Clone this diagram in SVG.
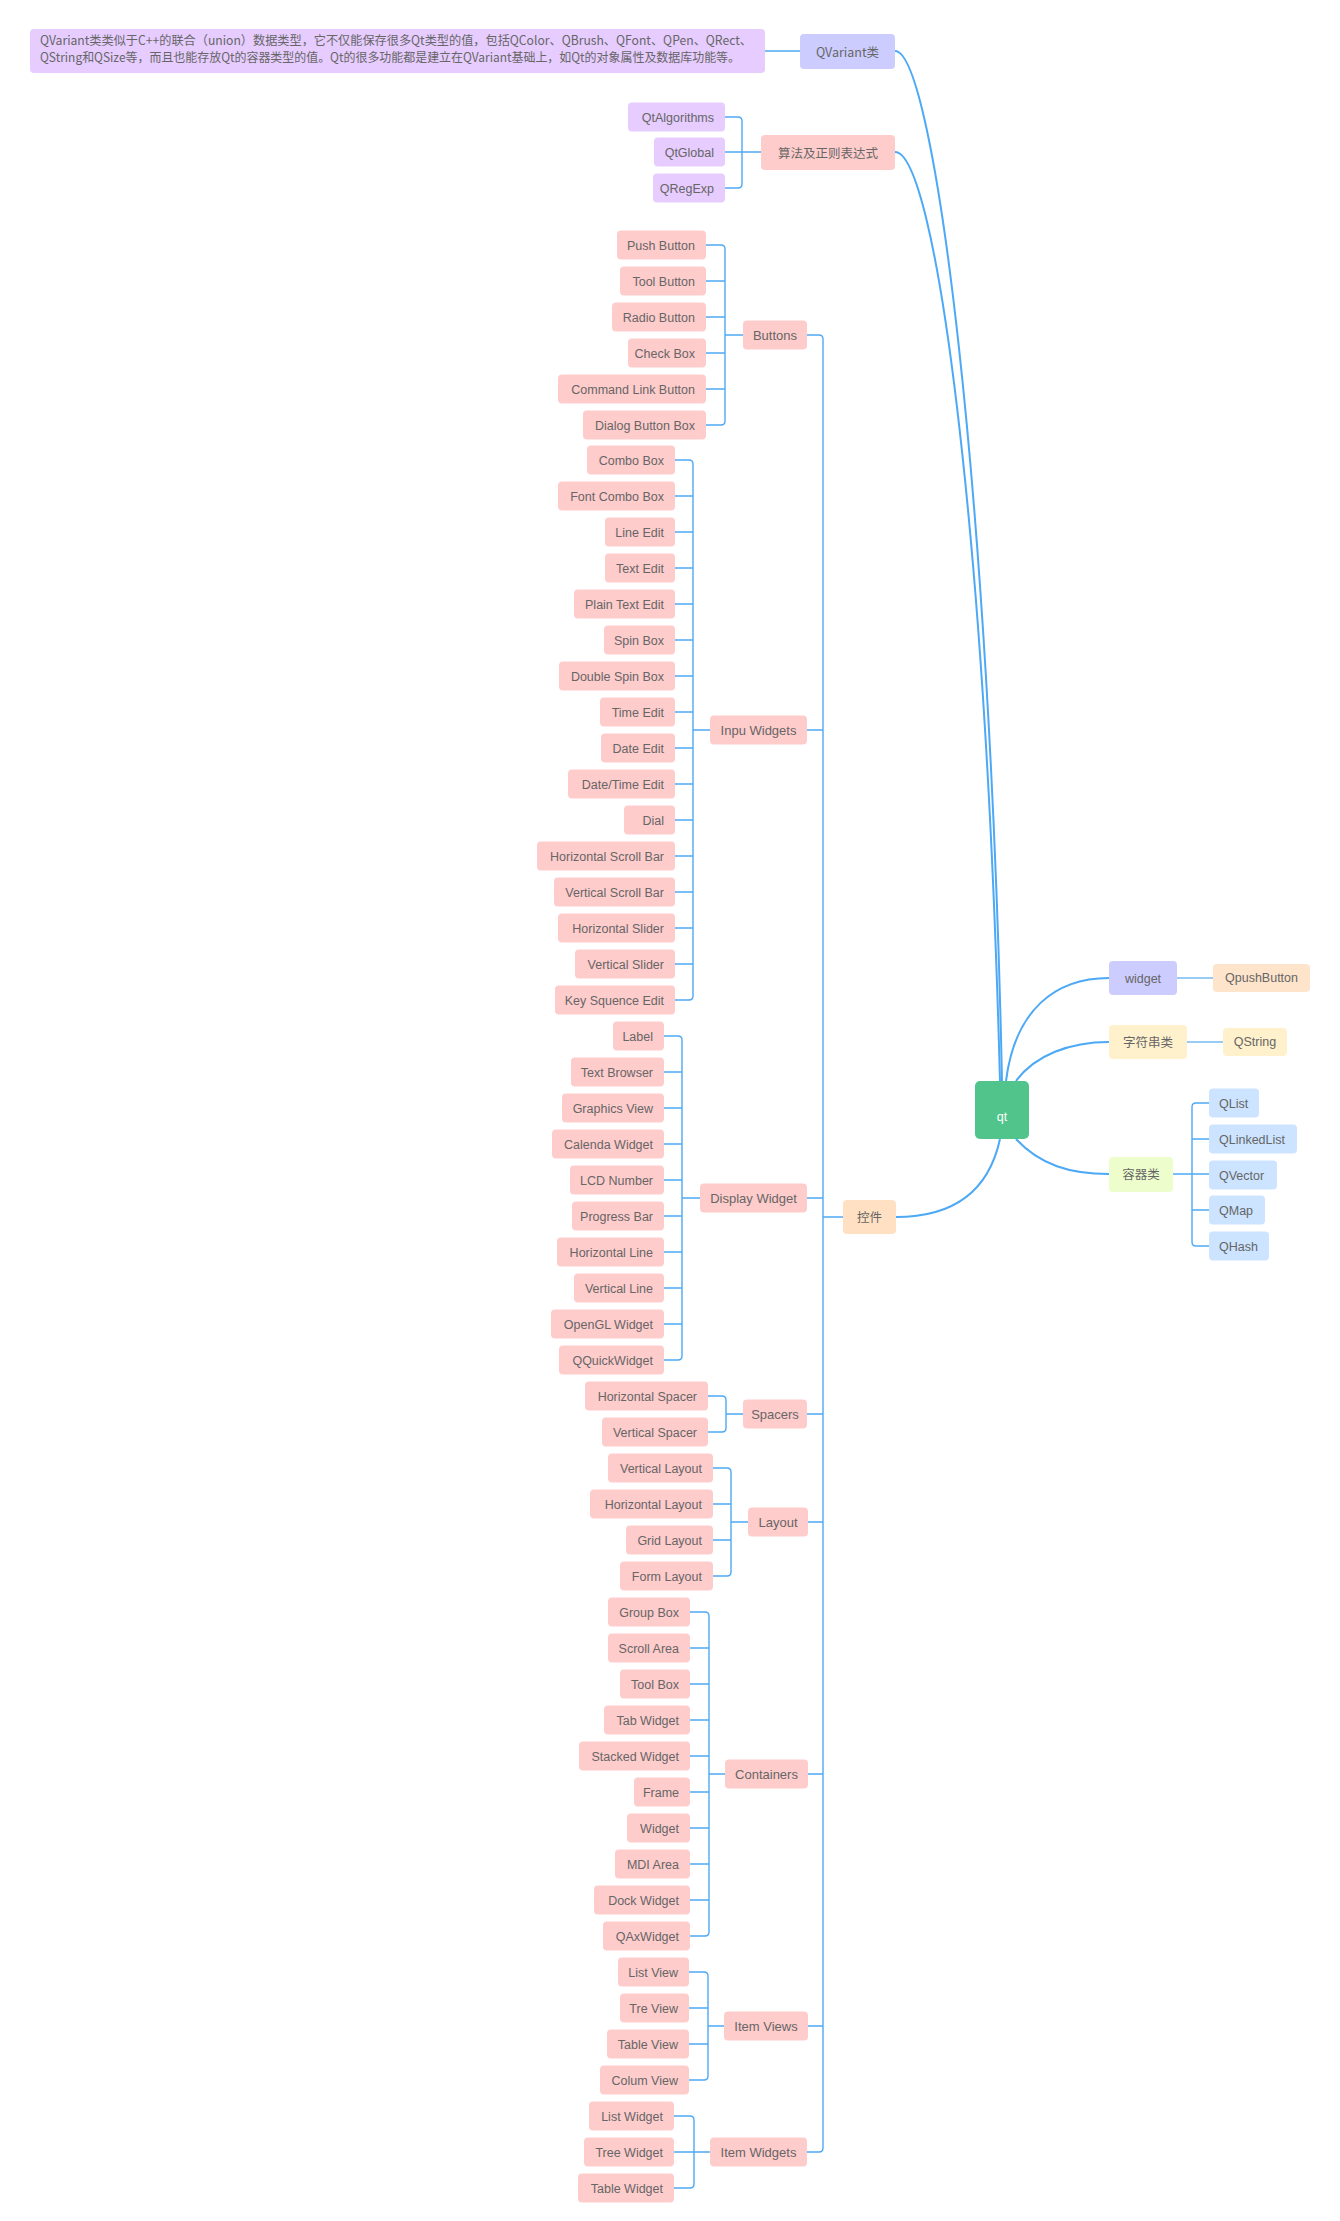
<svg xmlns="http://www.w3.org/2000/svg" width="1340" height="2221" viewBox="0 0 1340 2221">
<style>
text{font-family:"Liberation Sans","Noto Sans CJK SC",sans-serif;fill:#666;font-size:12.5px}
.lf rect{fill:#FFCCCC}
.lf text{text-anchor:end}
.g rect{fill:#FFCCCC}
.g text{text-anchor:middle;font-size:13px}
.c path{fill:none;stroke:#4DA9F5;stroke-width:1.4}
.c .m{stroke-width:2}
.c .l{stroke:#99CCF5;stroke-width:2}
.pu rect{fill:#E6CCFF}
.bl rect{fill:#CCE4FF}
.cn{font-family:"Noto Sans CJK SC",sans-serif}
</style>
<rect width="1340" height="2221" fill="#fff"/>
<g class="c" id="connectors">
<path d="M765,51 H800"/>
<path class="m" d="M895,51 C935,51 990,500 1002,1081"/>
<path class="m" d="M895,152 C935,152 985,520 1000,1081"/>
<path d="M725,117 H738 Q742,117 742,121 V184 Q742,188 738,188 H725 M725,152 H761"/>
<path d="M706,245 H721 Q725,245 725,249 V421 Q725,425 721,425 H706 M706,281 H725 M706,317 H725 M706,353 H725 M706,389 H725 M725,335 H743"/>
<path d="M675,460 H689 Q693,460 693,464 V996 Q693,1000 689,1000 H675 M675,496 H693 M675,532 H693 M675,568 H693 M675,604 H693 M675,640 H693 M675,676 H693 M675,712 H693 M675,748 H693 M675,784 H693 M675,820 H693 M675,856 H693 M675,892 H693 M675,928 H693 M675,964 H693 M693,730 H710"/>
<path d="M664,1036 H678 Q682,1036 682,1040 V1356 Q682,1360 678,1360 H664 M664,1072 H682 M664,1108 H682 M664,1144 H682 M664,1180 H682 M664,1216 H682 M664,1252 H682 M664,1288 H682 M664,1324 H682 M682,1198 H700"/>
<path d="M708,1396 H722 Q726,1396 726,1400 V1428 Q726,1432 722,1432 H708 M726,1414 H743"/>
<path d="M713,1468 H727 Q731,1468 731,1472 V1572 Q731,1576 727,1576 H713 M713,1504 H731 M713,1540 H731 M731,1522 H748"/>
<path d="M690,1612 H705 Q709,1612 709,1616 V1932 Q709,1936 705,1936 H690 M690,1648 H709 M690,1684 H709 M690,1720 H709 M690,1756 H709 M690,1792 H709 M690,1828 H709 M690,1864 H709 M690,1900 H709 M709,1774 H725"/>
<path d="M689,1972 H704 Q708,1972 708,1976 V2076 Q708,2080 704,2080 H689 M689,2008 H708 M689,2044 H708 M708,2026 H724"/>
<path d="M674,2116 H690 Q694,2116 694,2120 V2184 Q694,2188 690,2188 H674 M674,2152 H710"/>
<path d="M807,335 H819 Q823,335 823,339 V2148 Q823,2152 819,2152 H807 M807,730 H823 M807,1198 H823 M807,1414 H823 M807,1522 H823 M807,1774 H823 M807,2026 H823 M823,1217 H843"/>
<path class="m" d="M896,1217 C960,1217 990,1185 1000,1139"/>
<path class="m" d="M1006,1081 C1015,1010 1055,978 1109,978"/>
<path class="m" d="M1016,1081 C1035,1055 1070,1042 1109,1042"/>
<path class="m" d="M1016,1139 C1040,1165 1070,1174 1109,1174"/>
<path class="l" d="M1177,978 H1213 M1187,1042 H1223"/>
<path d="M1173,1174 H1209 M1209,1103 H1196 Q1192,1103 1192,1107 V1242 Q1192,1246 1196,1246 H1209 M1192,1139 H1209 M1192,1210 H1209"/>
</g>
<g id="desc" class="pu"><rect x="30" y="29" width="735" height="44" rx="4"/>
<text class="cn" x="40" y="45" font-size="11.5" textLength="712" lengthAdjust="spacingAndGlyphs">QVariant类类似于C++的联合（union）数据类型，它不仅能保存很多Qt类型的值，包括QColor、QBrush、QFont、QPen、QRect、</text>
<text class="cn" x="40" y="62" font-size="11.5" textLength="700" lengthAdjust="spacingAndGlyphs">QString和QSize等，而且也能存放Qt的容器类型的值。Qt的很多功能都是建立在QVariant基础上，如Qt的对象属性及数据库功能等。</text></g>
<g id="qvariant"><rect x="800" y="34" width="95" height="35" rx="4" fill="#CCCCFF"/><text class="cn" x="847.5" y="57" text-anchor="middle" font-size="15">QVariant类</text></g>
<g id="algo"><rect x="761" y="135" width="134" height="35" rx="4" fill="#FFCCCC"/><text class="cn" x="828" y="158" text-anchor="middle" font-size="15">算法及正则表达式</text></g>
<g id="algo-leaves" class="lf pu">
<rect x="628" y="102.5" width="97" height="29" rx="4"/><text x="714" y="121.5">QtAlgorithms</text>
<rect x="654" y="137.5" width="71" height="29" rx="4"/><text x="714" y="156.5">QtGlobal</text>
<rect x="653" y="173.5" width="72" height="29" rx="4"/><text x="714" y="192.5">QRegExp</text>
</g>
<g id="groups" class="g">
<rect x="743" y="320.5" width="64" height="29" rx="4"/><text x="775" y="339.5">Buttons</text>
<rect x="710" y="715.5" width="97" height="29" rx="4"/><text x="758.5" y="734.5">Inpu Widgets</text>
<rect x="700" y="1183.5" width="107" height="29" rx="4"/><text x="753.5" y="1202.5">Display Widget</text>
<rect x="743" y="1399.5" width="64" height="29" rx="4"/><text x="775" y="1418.5">Spacers</text>
<rect x="748" y="1507.5" width="60" height="29" rx="4"/><text x="778" y="1526.5">Layout</text>
<rect x="725" y="1759.5" width="83" height="29" rx="4"/><text x="766.5" y="1778.5">Containers</text>
<rect x="724" y="2011.5" width="84" height="29" rx="4"/><text x="766" y="2030.5">Item Views</text>
<rect x="710" y="2137.5" width="97" height="29" rx="4"/><text x="758.5" y="2156.5">Item Widgets</text>
</g>
<g id="kongjian"><rect x="843" y="1200" width="53" height="34" rx="4" fill="#FFE0C2"/><text class="cn" x="869.5" y="1222" text-anchor="middle" font-size="14">控件</text></g>
<g id="buttons-leaves" class="lf">
<rect x="617" y="230.5" width="89" height="29" rx="4"/><text x="695" y="249.5">Push Button</text>
<rect x="620" y="266.5" width="86" height="29" rx="4"/><text x="695" y="285.5">Tool Button</text>
<rect x="612" y="302.5" width="94" height="29" rx="4"/><text x="695" y="321.5">Radio Button</text>
<rect x="628" y="338.5" width="78" height="29" rx="4"/><text x="695" y="357.5">Check Box</text>
<rect x="558" y="374.5" width="148" height="29" rx="4"/><text x="695" y="393.5">Command Link Button</text>
<rect x="583" y="410.5" width="123" height="29" rx="4"/><text x="695" y="429.5">Dialog Button Box</text>
</g>
<g id="input-leaves" class="lf">
<rect x="587" y="445.5" width="88" height="29" rx="4"/><text x="664" y="464.5">Combo Box</text>
<rect x="558" y="481.5" width="117" height="29" rx="4"/><text x="664" y="500.5">Font Combo Box</text>
<rect x="605" y="517.5" width="70" height="29" rx="4"/><text x="664" y="536.5">Line Edit</text>
<rect x="605" y="553.5" width="70" height="29" rx="4"/><text x="664" y="572.5">Text Edit</text>
<rect x="574" y="589.5" width="101" height="29" rx="4"/><text x="664" y="608.5">Plain Text Edit</text>
<rect x="604" y="625.5" width="71" height="29" rx="4"/><text x="664" y="644.5">Spin Box</text>
<rect x="559" y="661.5" width="116" height="29" rx="4"/><text x="664" y="680.5">Double Spin Box</text>
<rect x="600" y="697.5" width="75" height="29" rx="4"/><text x="664" y="716.5">Time Edit</text>
<rect x="601" y="733.5" width="74" height="29" rx="4"/><text x="664" y="752.5">Date Edit</text>
<rect x="568" y="769.5" width="107" height="29" rx="4"/><text x="664" y="788.5">Date/Time Edit</text>
<rect x="624" y="805.5" width="51" height="29" rx="4"/><text x="664" y="824.5">Dial</text>
<rect x="537" y="841.5" width="138" height="29" rx="4"/><text x="664" y="860.5">Horizontal Scroll Bar</text>
<rect x="554" y="877.5" width="121" height="29" rx="4"/><text x="664" y="896.5">Vertical Scroll Bar</text>
<rect x="558" y="913.5" width="117" height="29" rx="4"/><text x="664" y="932.5">Horizontal Slider</text>
<rect x="575" y="949.5" width="100" height="29" rx="4"/><text x="664" y="968.5">Vertical Slider</text>
<rect x="555" y="985.5" width="120" height="29" rx="4"/><text x="664" y="1004.5">Key Squence Edit</text>
</g>
<g id="display-leaves" class="lf">
<rect x="613" y="1021.5" width="51" height="29" rx="4"/><text x="653" y="1040.5">Label</text>
<rect x="571" y="1057.5" width="93" height="29" rx="4"/><text x="653" y="1076.5">Text Browser</text>
<rect x="562" y="1093.5" width="102" height="29" rx="4"/><text x="653" y="1112.5">Graphics View</text>
<rect x="552" y="1129.5" width="112" height="29" rx="4"/><text x="653" y="1148.5">Calenda Widget</text>
<rect x="570" y="1165.5" width="94" height="29" rx="4"/><text x="653" y="1184.5">LCD Number</text>
<rect x="572" y="1201.5" width="92" height="29" rx="4"/><text x="653" y="1220.5">Progress Bar</text>
<rect x="557" y="1237.5" width="107" height="29" rx="4"/><text x="653" y="1256.5">Horizontal Line</text>
<rect x="574" y="1273.5" width="90" height="29" rx="4"/><text x="653" y="1292.5">Vertical Line</text>
<rect x="551" y="1309.5" width="113" height="29" rx="4"/><text x="653" y="1328.5">OpenGL Widget</text>
<rect x="559" y="1345.5" width="105" height="29" rx="4"/><text x="653" y="1364.5">QQuickWidget</text>
</g>
<g id="spacer-leaves" class="lf">
<rect x="585" y="1381.5" width="123" height="29" rx="4"/><text x="697" y="1400.5">Horizontal Spacer</text>
<rect x="602" y="1417.5" width="106" height="29" rx="4"/><text x="697" y="1436.5">Vertical Spacer</text>
</g>
<g id="layout-leaves" class="lf">
<rect x="608" y="1453.5" width="105" height="29" rx="4"/><text x="702" y="1472.5">Vertical Layout</text>
<rect x="590" y="1489.5" width="123" height="29" rx="4"/><text x="702" y="1508.5">Horizontal Layout</text>
<rect x="626" y="1525.5" width="87" height="29" rx="4"/><text x="702" y="1544.5">Grid Layout</text>
<rect x="620" y="1561.5" width="93" height="29" rx="4"/><text x="702" y="1580.5">Form Layout</text>
</g>
<g id="container-leaves" class="lf">
<rect x="608" y="1597.5" width="82" height="29" rx="4"/><text x="679" y="1616.5">Group Box</text>
<rect x="608" y="1633.5" width="82" height="29" rx="4"/><text x="679" y="1652.5">Scroll Area</text>
<rect x="620" y="1669.5" width="70" height="29" rx="4"/><text x="679" y="1688.5">Tool Box</text>
<rect x="604" y="1705.5" width="86" height="29" rx="4"/><text x="679" y="1724.5">Tab Widget</text>
<rect x="579" y="1741.5" width="111" height="29" rx="4"/><text x="679" y="1760.5">Stacked Widget</text>
<rect x="634" y="1777.5" width="56" height="29" rx="4"/><text x="679" y="1796.5">Frame</text>
<rect x="627" y="1813.5" width="63" height="29" rx="4"/><text x="679" y="1832.5">Widget</text>
<rect x="615" y="1849.5" width="75" height="29" rx="4"/><text x="679" y="1868.5">MDI Area</text>
<rect x="594" y="1885.5" width="96" height="29" rx="4"/><text x="679" y="1904.5">Dock Widget</text>
<rect x="603" y="1921.5" width="87" height="29" rx="4"/><text x="679" y="1940.5">QAxWidget</text>
</g>
<g id="itemview-leaves" class="lf">
<rect x="618" y="1957.5" width="71" height="29" rx="4"/><text x="678" y="1976.5">List View</text>
<rect x="620" y="1993.5" width="69" height="29" rx="4"/><text x="678" y="2012.5">Tre View</text>
<rect x="607" y="2029.5" width="82" height="29" rx="4"/><text x="678" y="2048.5">Table View</text>
<rect x="600" y="2065.5" width="89" height="29" rx="4"/><text x="678" y="2084.5">Colum View</text>
</g>
<g id="itemwidget-leaves" class="lf">
<rect x="589" y="2101.5" width="85" height="29" rx="4"/><text x="663" y="2120.5">List Widget</text>
<rect x="584" y="2137.5" width="90" height="29" rx="4"/><text x="663" y="2156.5">Tree Widget</text>
<rect x="578" y="2173.5" width="96" height="29" rx="4"/><text x="663" y="2192.5">Table Widget</text>
</g>
<g id="qt"><rect x="975" y="1081" width="54" height="58" rx="5" fill="#50C48A"/><text x="1002" y="1121" text-anchor="middle" font-size="30" style="fill:#fff">qt</text></g>
<g id="widget"><rect x="1109" y="961" width="68" height="34" rx="4" fill="#CCCCFF"/><text x="1143" y="983" text-anchor="middle" font-size="15">widget</text></g>
<g id="qpushbutton"><rect x="1213" y="964" width="97" height="28" rx="4" fill="#FFE4CC"/><text x="1261.5" y="982" text-anchor="middle" font-size="12.5">QpushButton</text></g>
<g id="string"><rect x="1109" y="1025" width="78" height="34" rx="4" fill="#FFF1CC"/><text class="cn" x="1148" y="1047" text-anchor="middle" font-size="14">字符串类</text></g>
<g id="qstring"><rect x="1223" y="1028" width="64" height="28" rx="4" fill="#FFF1CC"/><text x="1255" y="1046" text-anchor="middle">QString</text></g>
<g id="container"><rect x="1109" y="1157" width="64" height="35" rx="4" fill="#EDFDCC"/><text class="cn" x="1141" y="1179" text-anchor="middle" font-size="14">容器类</text></g>
<g id="container-cls" class="bl">
<rect x="1209" y="1088.5" width="50" height="29" rx="4"/><text x="1219" y="1107.5">QList</text>
<rect x="1209" y="1124.5" width="88" height="29" rx="4"/><text x="1219" y="1143.5">QLinkedList</text>
<rect x="1209" y="1160.5" width="68" height="29" rx="4"/><text x="1219" y="1179.5">QVector</text>
<rect x="1209" y="1195.5" width="56" height="29" rx="4"/><text x="1219" y="1214.5">QMap</text>
<rect x="1209" y="1231.5" width="60" height="29" rx="4"/><text x="1219" y="1250.5">QHash</text>
</g>
</svg>
